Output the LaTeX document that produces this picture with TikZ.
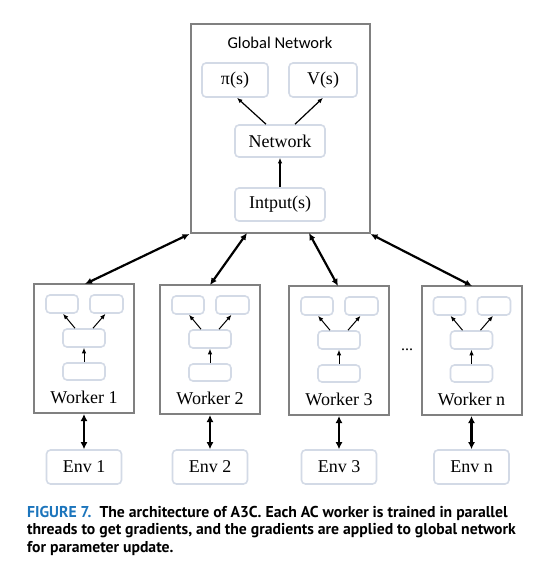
\documentclass[tikz,border=0pt]{standalone}
\usepackage{fontspec}
\setmainfont{Liberation Serif}
\newfontfamily\labelsans{Carlito}
\newfontfamily\capfont{PT Sans}
\usetikzlibrary{arrows.meta,calc}
\definecolor{outergray}{HTML}{808080}
\definecolor{innerblue}{HTML}{D3DAE6}
\definecolor{capblue}{HTML}{1C75BC}
\tikzset{
  outerbox/.style={draw=outergray,line width=2pt,fill=white},
  innerbox/.style={draw=innerblue,line width=1.6pt,rounded corners=4pt,fill=white,inner sep=0pt},
  lbl/.style={font=\fontsize{18}{20}\selectfont,inner sep=0pt},
  bigarrow/.style={line width=2.2pt,{Latex[length=7pt,width=6.5pt]}-{Latex[length=7pt,width=6.5pt]}},
  vertarrow/.style={line width=2.8pt,{Latex[length=7pt,width=7pt]}-{Latex[length=7pt,width=7pt]}},
  smallarrow/.style={line width=1pt,-{Latex[length=5.5pt,width=4.5pt]}},
}
\begin{document}
\begin{tikzpicture}[x=1pt,y=-1pt]
\useasboundingbox (0,0) rectangle (552,570);
% Global network
\node[outerbox,minimum width=179pt,minimum height=209pt,inner sep=0pt] (G) at (280,128.5) {};
\node[font=\labelsans\fontsize{16.5}{18}\selectfont,inner sep=0pt] (Gt) at (280,43) {Global Network};
\node[innerbox,minimum width=66pt,minimum height=34pt] (pi) at (235,80) {};
\node[lbl] (pit) at (235,80) {π(s)};
\node[innerbox,minimum width=68pt,minimum height=34pt] (V) at (323,80) {};
\node[lbl] (Vt) at (323,80) {V(s)};
\node[innerbox,minimum width=90pt,minimum height=32pt] (Net) at (280,141) {};
\node[lbl] (Nett) at (280,141) {Network};
\node[innerbox,minimum width=90pt,minimum height=33pt] (In) at (280,204.5) {};
\node[lbl] (Int) at (280,204.5) {Intput(s)};
\draw[smallarrow,line width=1.2pt] (In.north) -- (Net.south);
\draw[smallarrow,line width=1.2pt] ($(Net.north)+(-14,0)$) -- ($(pi.south)+(2,0)$);
\draw[smallarrow,line width=1.2pt] ($(Net.north)+(15,0)$) -- ($(V.south)+(0,0)$);
% workers
\foreach \i/\cx/\ty/\name in {1/84/284/Worker 1, 2/210/285/Worker 2, 3/339/286/Worker 3, n/471.5/286/Worker n}{
  \node[outerbox,minimum width=100pt,minimum height=129pt,inner sep=0pt] (W\i) at (\cx,\ty+64.5) {};
  \node[innerbox,minimum width=32pt,minimum height=18pt] (W\i a) at (\cx-22,\ty+20) {};
  \node[innerbox,minimum width=33pt,minimum height=18pt] (W\i b) at (\cx+22.5,\ty+20) {};
  \node[innerbox,minimum width=42pt,minimum height=18pt] (W\i c) at (\cx,\ty+54) {};
  \node[innerbox,minimum width=42pt,minimum height=17pt] (W\i d) at (\cx,\ty+87.5) {};
  \node[lbl] (W\i t) at (\cx,\ty+113) {\name};
  \draw[smallarrow] (W\i d.north) -- (W\i c.south);
  \draw[smallarrow] ($(W\i c.north)+(-9,0)$) -- ($(W\i a.south)+(1,0)$);
  \draw[smallarrow] ($(W\i c.north)+(9,0)$) -- ($(W\i b.south)+(-1,0)$);
  \node[innerbox,minimum width=75pt,minimum height=34pt] (E\i) at (\cx,467) {};
  \node[lbl] (E\i t) at (\cx,467) {Env \i};
  \draw[vertarrow] (W\i.south) -- (E\i.north);
}
\node[font=\fontsize{16}{18}\selectfont,inner sep=0pt] (dots) at (407,350) {...};
% global to workers
\coordinate (g2) at (247,233);
\coordinate (g3) at (309,233);
\coordinate (w1) at (85,284);
\coordinate (w2) at (210,285);
\coordinate (w3) at (338,286);
\coordinate (wn) at (472,286);
\draw[bigarrow] (G.south west) -- (w1);
\draw[bigarrow] (g2) -- (w2);
\draw[bigarrow] (g3) -- (w3);
\draw[bigarrow] (G.south east) -- (wn);
% caption
\node[anchor=north west,align=left,inner sep=0pt,font=\capfont\bfseries\fontsize{15.7}{17.5}\selectfont] (cap) at (27,506)
{{\color{capblue}FIGURE 7.}\ \ The architecture of A3C. Each AC worker is trained in parallel\\
threads to get gradients, and the gradients are applied to global network\\
for parameter update.};
\end{tikzpicture}
\end{document}
